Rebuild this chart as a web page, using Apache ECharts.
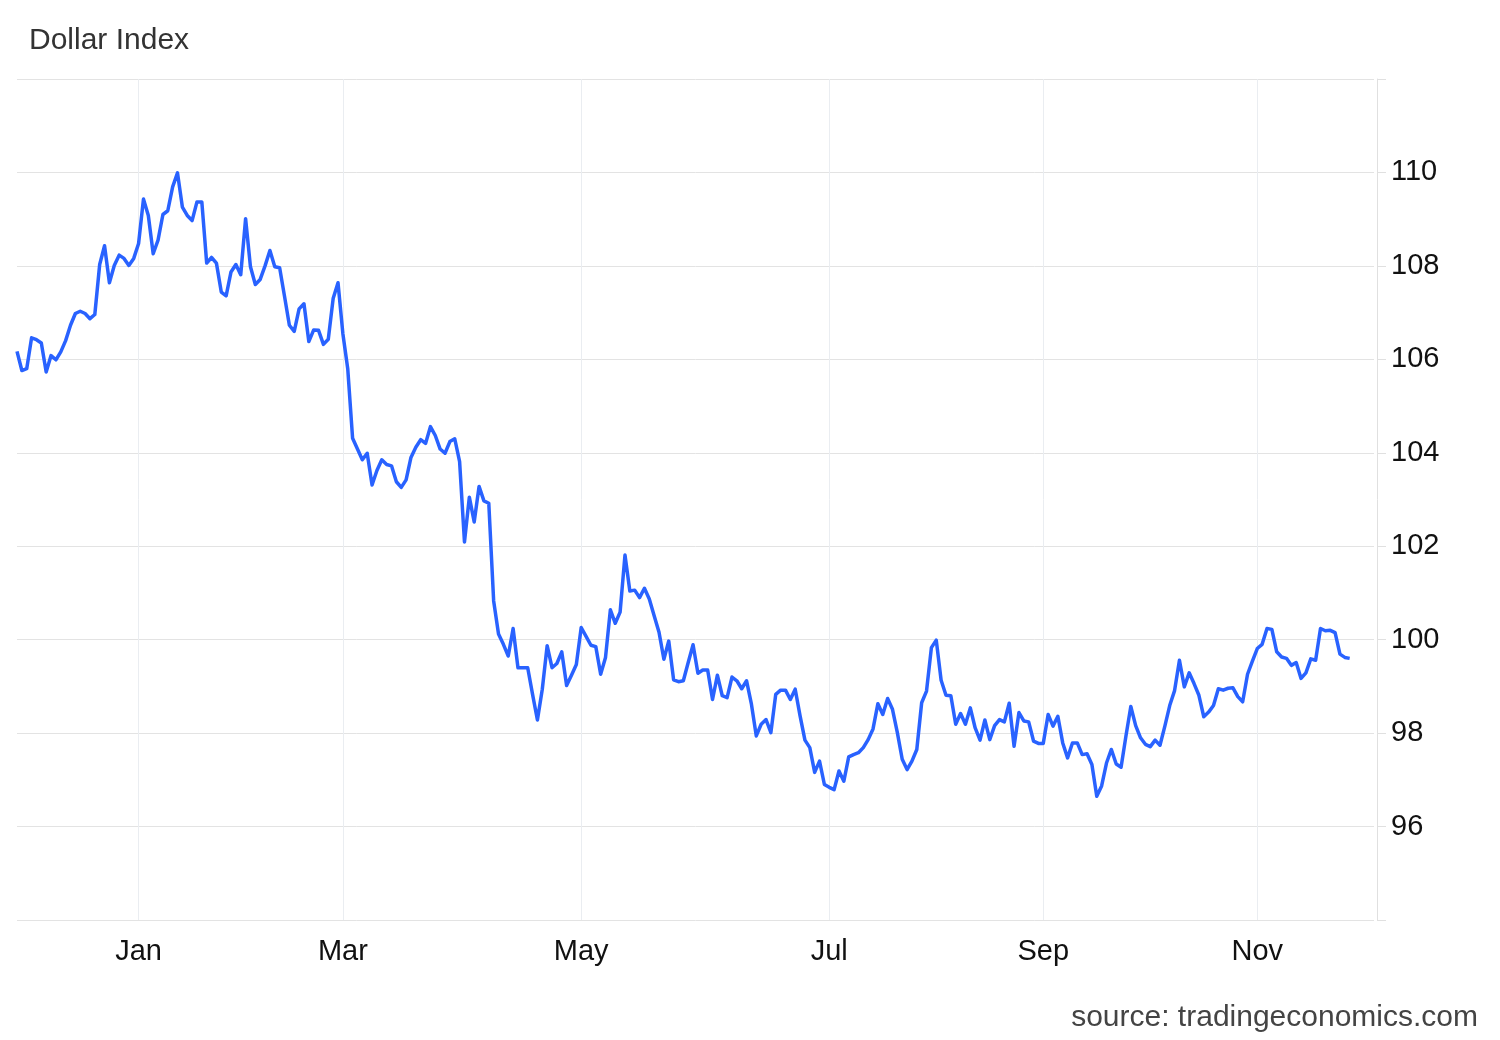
<!DOCTYPE html>
<html>
<head>
<meta charset="utf-8">
<script src="https://cdn.jsdelivr.net/npm/echarts@6/dist/echarts.min.js"></script>
<style>
html,body{margin:0;padding:0;background:#fff;}
#chart{width:1500px;height:1040px;}
</style>
</head>
<body>
<div id="chart"></div>
<script>
const dollarIndex = [
106.17,105.76,105.80,106.46,106.42,106.35,105.73,106.08,105.99,106.16,
106.40,106.73,106.98,107.03,106.98,106.87,106.96,108.03,108.43,107.64,
108.01,108.23,108.16,108.01,108.16,108.48,109.43,109.08,108.26,108.55,
109.10,109.18,109.69,109.99,109.26,109.08,108.97,109.37,109.37,108.06,
108.18,108.06,107.44,107.36,107.87,108.03,107.81,109.01,107.98,107.60,
107.71,108.00,108.33,107.98,107.96,107.35,106.73,106.60,107.08,107.19,
106.38,106.63,106.62,106.32,106.43,107.30,107.64,106.55,105.80,104.31,
104.08,103.85,103.99,103.31,103.62,103.85,103.75,103.72,103.38,103.26,
103.42,103.90,104.12,104.28,104.20,104.56,104.37,104.08,103.99,104.24,
104.30,103.81,102.09,103.05,102.52,103.28,102.97,102.92,100.83,100.12,
99.90,99.65,100.24,99.40,99.40,99.40,98.83,98.28,98.94,99.87,
99.40,99.49,99.74,99.02,99.24,99.47,100.26,100.07,99.88,99.85,
99.26,99.62,100.64,100.35,100.59,101.81,101.04,101.06,100.90,101.10,
100.87,100.51,100.16,99.58,99.97,99.14,99.10,99.12,99.51,99.89,
99.28,99.35,99.35,98.72,99.24,98.80,98.76,99.20,99.12,98.95,
99.12,98.62,97.94,98.19,98.29,98.01,98.83,98.92,98.92,98.72,
98.94,98.37,97.85,97.69,97.16,97.40,96.90,96.84,96.79,97.19,
96.97,97.49,97.54,97.58,97.69,97.86,98.09,98.63,98.40,98.74,
98.51,98.01,97.44,97.22,97.40,97.65,98.65,98.90,99.83,99.99,
99.13,98.81,98.80,98.19,98.42,98.19,98.54,98.11,97.85,98.28,
97.86,98.16,98.29,98.24,98.64,97.72,98.44,98.26,98.24,97.83,
97.78,97.78,98.40,98.15,98.36,97.79,97.47,97.79,97.79,97.54,
97.56,97.33,96.65,96.87,97.36,97.65,97.34,97.27,97.94,98.57,
98.16,97.90,97.76,97.71,97.85,97.74,98.15,98.59,98.91,99.56,
98.99,99.29,99.06,98.81,98.35,98.45,98.59,98.95,98.92,98.96,
98.97,98.78,98.67,99.26,99.54,99.81,99.90,100.24,100.22,99.74,
99.63,99.60,99.45,99.51,99.17,99.29,99.59,99.56,100.24,100.19,
100.20,100.15,99.69,99.62,99.60
];
// month tick labels and the observation at which each month starts
const tickLabels = ['Jan', 'Mar', 'May', 'Jul', 'Sep', 'Nov'];
const tickIndex = [25, 67, 116, 167, 211, 255];
// number of empty slots after the last observation (right-hand padding of the time range)
const trailingSlots = 5;
const yTicks = [96, 98, 100, 102, 104, 106, 108, 110];

const categories = [];
for (let i = 0; i < dollarIndex.length + trailingSlots; i++) categories.push('p' + i);

const labelFor = {};
tickIndex.forEach((ix, k) => { labelFor[ix] = tickLabels[k]; });

const FONT = "'Liberation Sans', Arial, sans-serif";
const chart = echarts.init(document.getElementById('chart'), null, {renderer: 'canvas'});
chart.setOption({
  backgroundColor: '#ffffff',
  animation: false,
  grid: {left: 17, right: 126, top: 79, bottom: 120, containLabel: false},
  graphic: [
    {type: 'text', left: 29, top: 26, style: {text: 'Dollar Index', font: "30px " + FONT, fill: '#333333'}},
    {type: 'text', right: 22, top: 1003, style: {text: 'source: tradingeconomics.com', font: "30px " + FONT, fill: '#444444'}}
  ],
  xAxis: {
    type: 'category',
    data: categories,
    boundaryGap: false,
    axisLine: {show: false},
    axisTick: {show: false},
    axisLabel: {
      interval: (index) => labelFor[index] !== undefined,
      formatter: (val, index) => labelFor[index] || '',
      color: '#111111',
      fontFamily: FONT,
      fontSize: 29,
      margin: 17
    },
    splitLine: {
      show: true,
      interval: (index) => labelFor[index] !== undefined,
      lineStyle: {color: '#eaedf1', width: 1}
    }
  },
  yAxis: {
    type: 'value',
    position: 'right',
    min: 94,
    max: 112,
    interval: 2,
    offset: 3,
    axisLine: {show: true, lineStyle: {color: '#e0e0e0', width: 1}},
    axisTick: {show: true, length: 9, lineStyle: {color: '#e0e0e0'}},
    axisLabel: {
      formatter: (v) => yTicks.includes(v) ? String(v) : '',
      color: '#111111',
      fontFamily: FONT,
      fontSize: 29,
      margin: 14,
      padding: [3, 0, 0, 0]
    },
    splitLine: {show: true, lineStyle: {color: '#e3e3e3', width: 1}}
  },
  series: [{
    type: 'line',
    data: dollarIndex,
    showSymbol: false,
    smooth: false,
    lineStyle: {color: '#2962ff', width: 3.5, join: 'round'},
    itemStyle: {color: '#2962ff'}
  }]
});
</script>
</body>
</html>
